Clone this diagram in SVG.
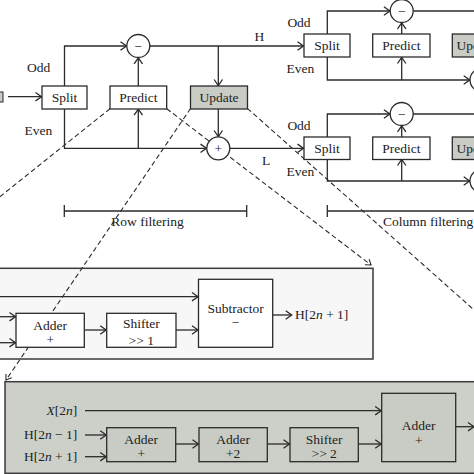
<svg xmlns="http://www.w3.org/2000/svg" width="474" height="474" viewBox="0 0 474 474">
<style>
text{font-family:"Liberation Serif","DejaVu Serif",serif;font-size:13.5px;fill:#222}
.m{text-anchor:middle}
.e{text-anchor:end}
.i{font-style:italic}
.box{fill:#fff;stroke:#2b2b2b;stroke-width:1.3}
.gbox{fill:#c8ccc4;stroke:#2b2b2b;stroke-width:1.3}
.circ{fill:#fff;stroke:#2b2b2b;stroke-width:1.3}
.ln{fill:none;stroke:#2b2b2b;stroke-width:1.3}
.arr{fill:none;stroke:#2b2b2b;stroke-width:1.3;marker-end:url(#ah)}
.dash{fill:none;stroke:#2b2b2b;stroke-width:1.1;stroke-dasharray:5,3}
.dasha{fill:none;stroke:#2b2b2b;stroke-width:1.1;stroke-dasharray:5,3;marker-end:url(#ahd)}
</style>
<defs>
<marker id="ah" markerUnits="userSpaceOnUse" markerWidth="12" markerHeight="12" viewBox="-8 -6 10 12" refX="0" refY="0" orient="auto">
<path d="M-6,-4.2 L0,0 L-6,4.2" fill="none" stroke="#2b2b2b" stroke-width="1.3"/>
</marker>
<marker id="ahd" markerUnits="userSpaceOnUse" markerWidth="12" markerHeight="12" viewBox="-8 -6 10 12" refX="0" refY="0" orient="auto">
<path d="M-5,-3.5 L0,0 L-5,3.5" fill="none" stroke="#2b2b2b" stroke-width="1.1"/>
</marker>
</defs>
<rect width="474" height="474" fill="#fff"/>

<g id="predict-detail">
<rect x="-10" y="268.3" width="383" height="90.7" fill="#f7f7f7" stroke="#3a3a3a" stroke-width="1.5"/>
</g>
<g id="update-detail">
<rect x="5" y="381.7" width="480" height="91.6" fill="#cdd0c9" stroke="#3a3a3a" stroke-width="1.5"/>
</g>

<g id="connectors">
<path class="arr" d="M8,96.7 H41.5"/>
<path class="arr" d="M64.5,86 V46 H126.5"/>
<path class="arr" d="M138.3,86 V57.8"/>
<path class="arr" d="M64.5,109 V148.3 H206.5"/>
<path class="arr" d="M138.3,148.3 V109.2"/>
<path class="arr" d="M149.8,46 H303.5"/>
<path class="arr" d="M218.3,46 V85.5"/>
<path class="arr" d="M218.3,109 V136.5"/>
<path class="arr" d="M229.8,148.3 H303.5"/>
<path class="arr" d="M327.3,34 V11 H389.9"/>
<path class="arr" d="M401.7,34 V22.8"/>
<path class="arr" d="M327.3,57 V80 H469.7"/>
<path class="arr" d="M401.7,80 V57.5"/>
<path class="ln" d="M413.2,11 H474"/>
<path class="arr" d="M327.3,137 V114 H389.9"/>
<path class="arr" d="M401.7,137 V125.8"/>
<path class="arr" d="M327.3,159 V181 H469.7"/>
<path class="arr" d="M401.7,181 V159.5"/>
<path class="ln" d="M413.2,114 H474"/>
<path class="ln" d="M64.3,211 H246.7 M64.3,205 V217 M246.7,205 V217"/>
<path class="ln" d="M327.3,211 H474 M327.3,205 V217"/>
<path class="arr" d="M-5,296.7 H198"/>
<path class="arr" d="M-5,316.7 H15.5"/>
<path class="arr" d="M-5,342.7 H15.5"/>
<path class="arr" d="M84.3,330 H106.2"/>
<path class="arr" d="M176,330 H198"/>
<path class="arr" d="M272.7,315 H291.7"/>
<path class="arr" d="M85,410.7 H381.2"/>
<path class="arr" d="M85,435 H106.2"/>
<path class="arr" d="M85,456.7 H106.2"/>
<path class="arr" d="M175.7,444 H198.5"/>
<path class="arr" d="M267.3,444 H289.5"/>
<path class="arr" d="M358.3,444 H381.2"/>
<path class="arr" d="M455.7,426.7 H474"/>
<path class="dash" d="M110,108.7 L-20,212.7"/>
<path class="dasha" d="M166.7,108.7 L371,265"/>
<path class="dasha" d="M190.7,108.3 L6,380"/>
<path class="dash" d="M247.3,108.3 L500,333"/>
</g>

<g id="input"><rect x="-2" y="92" width="5" height="10" fill="#c8ccc4" stroke="#2b2b2b" stroke-width="1"/></g>
<g id="split1"><rect class="box" x="42" y="86" width="45" height="23"/><text class="m" x="64.5" y="101.7">Split</text></g>
<g id="predict1"><rect class="box" x="110" y="86" width="56.7" height="23"/><text class="m" x="138.3" y="101.7">Predict</text></g>
<g id="update1"><rect class="gbox" x="190.5" y="86" width="57" height="23"/><text class="m" x="219" y="101.7">Update</text></g>
<g id="minus1"><circle class="circ" cx="138.3" cy="46" r="11.5"/><text class="m" x="138.3" y="50.5">−</text></g>
<g id="plus1"><circle class="circ" cx="218.3" cy="148.3" r="11.5"/><text class="m" x="218.3" y="152.8">+</text></g>
<g id="labels1">
<text class="m" x="38.7" y="72.3">Odd</text>
<text class="m" x="38.3" y="135">Even</text>
<text class="m" x="259.3" y="40.7">H</text>
<text class="m" x="266" y="165">L</text>
</g>

<g id="split2"><rect class="box" x="304" y="34" width="46" height="23"/><text class="m" x="327" y="50">Split</text></g>
<g id="predict2"><rect class="box" x="372.7" y="34" width="57.3" height="23"/><text class="m" x="401.3" y="50">Predict</text></g>
<g id="update2"><rect class="gbox" x="452.3" y="34" width="40" height="23"/><text x="456.5" y="50">Update</text></g>
<g id="minus2"><circle class="circ" cx="401.7" cy="11" r="11.5"/><text class="m" x="401.7" y="15.5">−</text></g>
<g id="plus2"><circle class="circ" cx="481.5" cy="80" r="11.5"/></g>
<g id="labels2">
<text class="m" x="299" y="27.3">Odd</text>
<text class="m" x="300.3" y="72.7">Even</text>
</g>

<g id="split3"><rect class="box" x="304" y="137" width="46" height="22.5"/><text class="m" x="327" y="153.2">Split</text></g>
<g id="predict3"><rect class="box" x="372.7" y="137" width="57.3" height="22.5"/><text class="m" x="401.3" y="153.2">Predict</text></g>
<g id="update3"><rect class="gbox" x="452.3" y="137" width="40" height="22.5"/><text x="456.5" y="153.2">Update</text></g>
<g id="minus3"><circle class="circ" cx="401.7" cy="114" r="11.5"/><text class="m" x="401.7" y="118.5">−</text></g>
<g id="plus3"><circle class="circ" cx="481.5" cy="181" r="11.5"/></g>
<g id="labels3">
<text class="m" x="299" y="130">Odd</text>
<text class="m" x="300.3" y="176">Even</text>
</g>

<g id="row-filtering"><text class="m" x="147.5" y="225.5">Row filtering</text></g>
<g id="column-filtering"><text x="383" y="225.5">Column filtering</text></g>

<g id="p-adder"><rect class="box" x="16" y="313.3" width="68.3" height="34"/><text class="m" x="50.2" y="329.5">Adder</text><text class="m" x="50.2" y="344">+</text></g>
<g id="p-shifter"><rect class="box" x="106.7" y="313.3" width="69.3" height="34"/><text class="m" x="141.3" y="328">Shifter</text><text class="m" x="141.3" y="344.5">&gt;&gt; 1</text></g>
<g id="p-subtractor"><rect class="box" x="198.5" y="279.3" width="74.2" height="68"/><text class="m" x="235.6" y="313">Subtractor</text><text class="m" x="235.6" y="327">−</text></g>
<g id="p-out"><text x="295" y="318.5">H[2<tspan class="i">n</tspan> + 1]</text></g>

<g id="u-inputs">
<text class="e" x="77.3" y="415"><tspan class="i">X</tspan>[2<tspan class="i">n</tspan>]</text>
<text class="e" x="77.3" y="439">H[2<tspan class="i">n</tspan> − 1]</text>
<text class="e" x="77.3" y="460.5">H[2<tspan class="i">n</tspan> + 1]</text>
</g>
<g id="u-adder1"><rect class="gbox" x="106.7" y="427.7" width="69" height="34"/><text class="m" x="141.2" y="443.8">Adder</text><text class="m" x="141.2" y="458">+</text></g>
<g id="u-adder2"><rect class="gbox" x="199" y="427.7" width="68.3" height="34"/><text class="m" x="233.2" y="443.8">Adder</text><text class="m" x="233.2" y="458">+2</text></g>
<g id="u-shifter"><rect class="gbox" x="290" y="427.7" width="68.3" height="34"/><text class="m" x="324.2" y="443.5">Shifter</text><text class="m" x="324.2" y="458">&gt;&gt; 2</text></g>
<g id="u-adder3"><rect class="gbox" x="381.7" y="393.3" width="74" height="68.4"/><text class="m" x="418.7" y="430">Adder</text><text class="m" x="418.7" y="444.5">+</text></g>
</svg>
